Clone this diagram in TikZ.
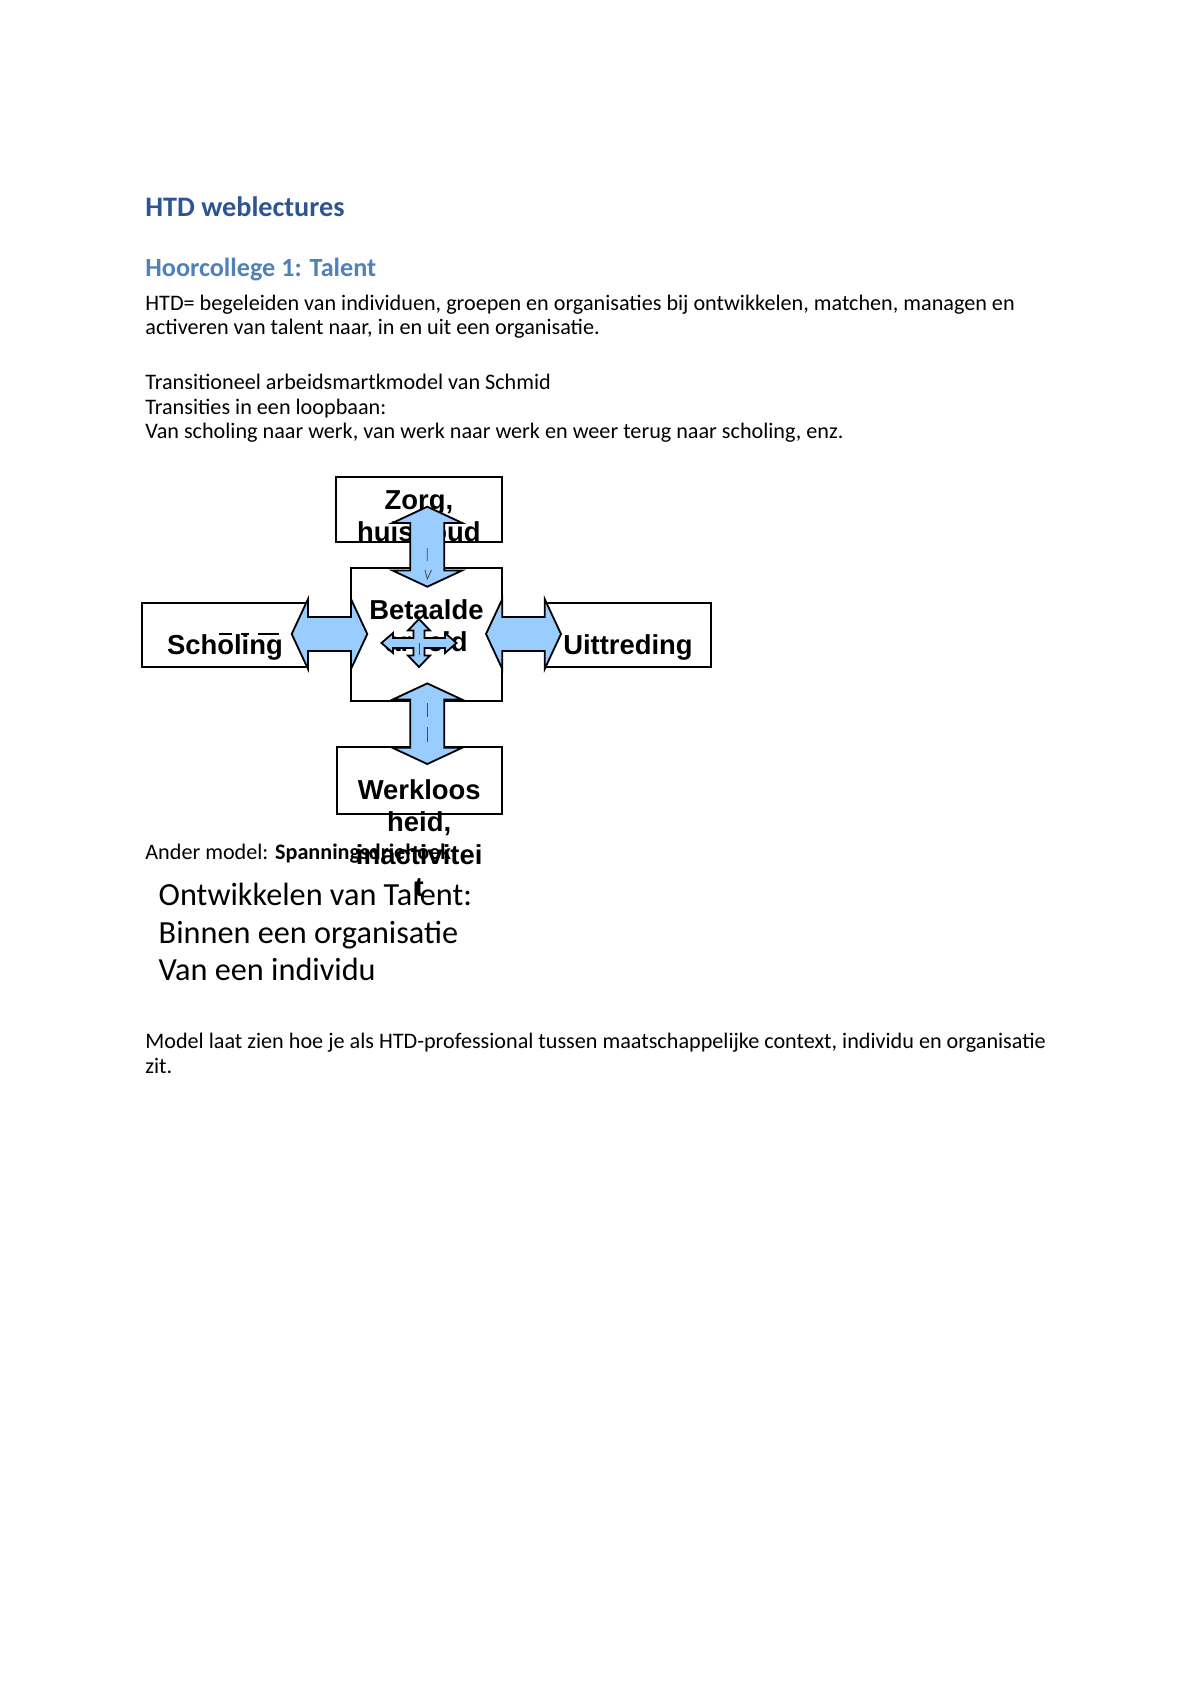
\documentclass[tikz,border=0pt]{standalone}
\usepackage{fontspec}
\setmainfont{Carlito}
\newfontfamily\diafont{Liberation Sans}
\usetikzlibrary{shapes.arrows, fit}

\definecolor{headblue}{HTML}{2E5496}
\definecolor{subblue}{HTML}{4F81BD}
\definecolor{arrowblue}{HTML}{99CCFF}

\tikzset{
  bodytext/.style={anchor=base west, inner sep=0pt, font=\fontsize{11}{13}\selectfont},
  statebox/.style={draw, line width=1.1pt, fill=white, inner sep=0pt},
  boxlabel/.style={anchor=base, inner sep=0pt, align=center, font=\diafont\bfseries\fontsize{13.6}{16.1}\selectfont},
  blockarrow/.style={double arrow, draw, line width=0.9pt, fill=arrowblue, inner xsep=0pt, inner ysep=8pt,
    minimum width=33.7pt, double arrow head extend=8.85pt, double arrow tip angle=130},
  glitch/.style={line width=0.4pt, black!70},
}

\begin{document}
\begin{tikzpicture}[x=0.49606pt, y=-0.49606pt]
  \useasboundingbox (0,0) rectangle (1200,1698);
  \fill[white] (0,0) rectangle (1200,1698);

  % headings and text above the model
  \node[bodytext, font=\bfseries\fontsize{14}{17}\selectfont, text=headblue] (title) at (145,216.7) {HTD weblectures};
  \node[bodytext, font=\bfseries\fontsize{13}{16}\selectfont, text=subblue] (lecture) at (145,276) {Hoorcollege 1: Talent};
  \node[bodytext] (def1) at (145,310) {HTD= begeleiden van individuen, groepen en organisaties bij ontwikkelen, matchen, managen en};
  \node[bodytext] (def2) at (145,334.5) {activeren van talent naar, in en uit een organisatie.};
  \node[bodytext] (trans1) at (145,389.5) {Transitioneel arbeidsmartkmodel van Schmid};
  \node[bodytext] (trans2) at (145,414.2) {Transities in een loopbaan:};
  \node[bodytext] (trans3) at (145,438.7) {Van scholing naar werk, van werk naar werk en weer terug naar scholing, enz.};

  % model of Schmid (labels anchored at their last line)
  \node[statebox, fit={(336,477.3) (501.7,541.7)}] (zorg) {};
  \node[boxlabel] (zorgtxt) at (418.9,574.3) {Zorg,\\huishoud\\e};
  \node[statebox, fit={(351,568.3) (501.7,700.7)}] (werk) {};
  \node[boxlabel] (werktxt) at (426.4,651.8) {Betaalde\\arbeid};
  \node[statebox, fit={(141.7,602.7) (307.3,666.7)}] (schol) {};
  \node[boxlabel] (scholtxt) at (224.9,654) {Scholing};
  \node[statebox, fit={(545,602.7) (710.7,666.7)}] (uit) {};
  \node[boxlabel] (uittxt) at (628,654.3) {Uittreding};
  \node[statebox, fit={(336.7,747.3) (501.7,814)}] (loos) {};
  \node[boxlabel] (loostxt) at (419.2,896.5) {Werkloos\\heid,\\inactivitei\\t};

  \node[blockarrow, minimum height=37.5pt] (arrschol) at (329.5,634) {};
  \node[blockarrow, minimum height=37.2pt] (arruit) at (523.5,634) {};
  \node[blockarrow, minimum height=39.7pt, rotate=90] (arrzorg) at (427.3,546.7) {};
  \node[blockarrow, minimum height=40pt, rotate=90] (arrloos) at (427.3,723.7) {};

  \filldraw[fill=arrowblue, line width=0.9pt, shift={(419,643)}]
    (0,-24) -- (11,-12.5) -- (5.5,-12.5) -- (5.5,-5) -- (26,-5) -- (26,-10) -- (37.5,0)
    -- (26,10) -- (26,5) -- (5.5,5) -- (5.5,12.5) -- (11,12.5) -- (0,24)
    -- (-11,12.5) -- (-5.5,12.5) -- (-5.5,5) -- (-26,5) -- (-26,10) -- (-37.5,0)
    -- (-26,-10) -- (-26,-5) -- (-5.5,-5) -- (-5.5,-12.5) -- (-11,-12.5) -- cycle;

  \draw[glitch] (427.3,548) -- (427.3,561) (425,570) -- (427.3,579) -- (431.5,570);
  \draw[glitch] (427.3,703) -- (427.3,717) (427.3,727) -- (427.3,742);
  \draw[glitch] (419,643) -- (419,655);
  \draw[line width=0.8pt] (219,634) -- (232,634) (241,634) -- (249,634) (258,634) -- (279,634);

  % text below the model
  \node[bodytext] (ander) at (145,859.5) {Ander model: \textbf{Spanningsdriehoek}};
  \node[bodytext, font=\fontsize{16}{18.5}\selectfont] (talent1) at (158.3,905.5) {Ontwikkelen van Talent:};
  \node[bodytext, font=\fontsize{16}{18.5}\selectfont] (talent2) at (158.3,943) {Binnen een organisatie};
  \node[bodytext, font=\fontsize{16}{18.5}\selectfont] (talent3) at (158.3,980.5) {Van een individu};
  \node[bodytext] (model1) at (145,1048.3) {Model laat zien hoe je als HTD-professional tussen maatschappelijke context, individu en organisatie};
  \node[bodytext] (model2) at (145,1073.3) {zit.};
\end{tikzpicture}
\end{document}
